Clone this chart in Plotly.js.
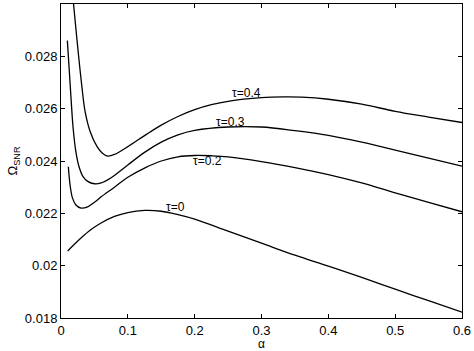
<!DOCTYPE html>
<html>
<head>
<meta charset="utf-8">
<script src="https://cdn.plot.ly/plotly-3.0.1.min.js"></script>
<style>html,body{margin:0;padding:0;background:#fff;}#chart{width:474px;height:351px;}</style>
</head>
<body>
<div id="chart"></div>
<script>
// tau = 0.4
const alpha04 = [0.016,0.0184,0.021,0.026,0.031,0.036,0.044,0.054,0.062,0.07,0.08,0.1,0.125,0.15,0.175,0.2,0.225,0.25,0.3,0.333,0.36,0.4,0.45,0.5,0.55,0.6];
const omega04 = [0.0308,0.0301,0.0294,0.0281,0.0269,0.0259,0.0251,0.02455,0.0243,0.02419,0.02425,0.02455,0.02497,0.02537,0.0257,0.02596,0.02615,0.02628,0.02642,0.02645,0.02644,0.02636,0.02617,0.0259,0.02568,0.02547];
// tau = 0.3
const alpha03 = [0.0095,0.012,0.015,0.018,0.022,0.027,0.033,0.04,0.05,0.06,0.075,0.1,0.125,0.15,0.175,0.2,0.25,0.3,0.35,0.4,0.45,0.5,0.55,0.6];
const omega03 = [0.0286,0.0276,0.0264,0.0253,0.0244,0.02378,0.0234,0.02322,0.02313,0.02316,0.02336,0.02385,0.02433,0.02472,0.025,0.02517,0.0253,0.0253,0.02516,0.02498,0.02472,0.02442,0.02411,0.0238];
// tau = 0.2
const alpha02 = [0.011,0.0135,0.017,0.022,0.03,0.04,0.05,0.06,0.08,0.1,0.125,0.15,0.175,0.2,0.225,0.25,0.3,0.35,0.4,0.45,0.5,0.55,0.6];
const omega02 = [0.02378,0.0231,0.0226,0.02233,0.0222,0.02225,0.02242,0.02263,0.023,0.02338,0.02373,0.024,0.02416,0.02421,0.0242,0.02416,0.02398,0.02375,0.02348,0.02316,0.02278,0.02242,0.02206];
// tau = 0
const alpha00 = [0.01,0.02,0.03,0.045,0.06,0.08,0.1,0.125,0.15,0.175,0.2,0.25,0.3,0.35,0.4,0.45,0.5,0.55,0.6];
const omega00 = [0.02056,0.02082,0.02106,0.02138,0.02163,0.02188,0.02203,0.02211,0.02208,0.02195,0.02178,0.02132,0.02086,0.0204,0.01998,0.01955,0.0191,0.01866,0.01822];

const curveLabels = ['τ=0.4','τ=0.3','τ=0.2','τ=0'];
const xTitle = 'α';
const yTitle = 'Ω<sub>SNR</sub>';
const xTicks = [0,0.1,0.2,0.3,0.4,0.5,0.6];
const xTickText = ['0','0.1','0.2','0.3','0.4','0.5','0.6'];
const yTicks = [0.018,0.02,0.022,0.024,0.026,0.028];
const yTickText = ['0.018','0.02','0.022','0.024','0.026','0.028'];

const series = [[alpha04,omega04],[alpha03,omega03],[alpha02,omega02],[alpha00,omega00]];
const traces = series.map((s,i)=>({
  x:s[0], y:s[1], type:'scatter', mode:'lines', name:curveLabels[i],
  line:{color:'#000', width:1.3, shape:'spline', smoothing:1},
  hoverinfo:'skip'
}));

const font = {family:'Liberation Sans, Arial, sans-serif', size:13, color:'#000'};
const labelPos = [[0.277,0.02659],[0.253,0.02548],[0.2185,0.02399],[0.1706,0.02224]];
const annotations = curveLabels.map((t,i)=>({
  x:labelPos[i][0], y:labelPos[i][1], xref:'x', yref:'y', text:t, showarrow:false,
  font:{family:'Liberation Sans, Arial, sans-serif', size:12, color:'#000'}
}));
annotations.push({x:0.5, y:0, xref:'paper', yref:'paper', xanchor:'center', yanchor:'top',
  yshift:-18, borderpad:0, text:xTitle, showarrow:false,
  font:{family:'Liberation Sans, Arial, sans-serif', size:12, color:'#000'}});

const layout = {
  width:474, height:351,
  margin:{l:61, r:12, t:4, b:33},
  paper_bgcolor:'#fff', plot_bgcolor:'#fff',
  showlegend:false,
  font:font,
  xaxis:{range:[0,0.6], tickvals:xTicks, ticktext:xTickText, ticks:'inside', ticklen:4, tickcolor:'#000',
    showline:true, linecolor:'#000', linewidth:1, mirror:'ticks', showgrid:false, zeroline:false,
    ticklabelstandoff:0, automargin:false, tickfont:font},
  yaxis:{range:[0.018,0.030], tickvals:yTicks, ticktext:yTickText, ticks:'inside', ticklen:4, tickcolor:'#000',
    showline:true, linecolor:'#000', linewidth:1, mirror:'ticks', showgrid:false, zeroline:false,
    tickfont:font, title:{text:yTitle, font:font, standoff:4}},
  annotations:annotations
};
Plotly.newPlot('chart', traces, layout, {staticPlot:true, displayModeBar:false});
</script>
</body>
</html>
